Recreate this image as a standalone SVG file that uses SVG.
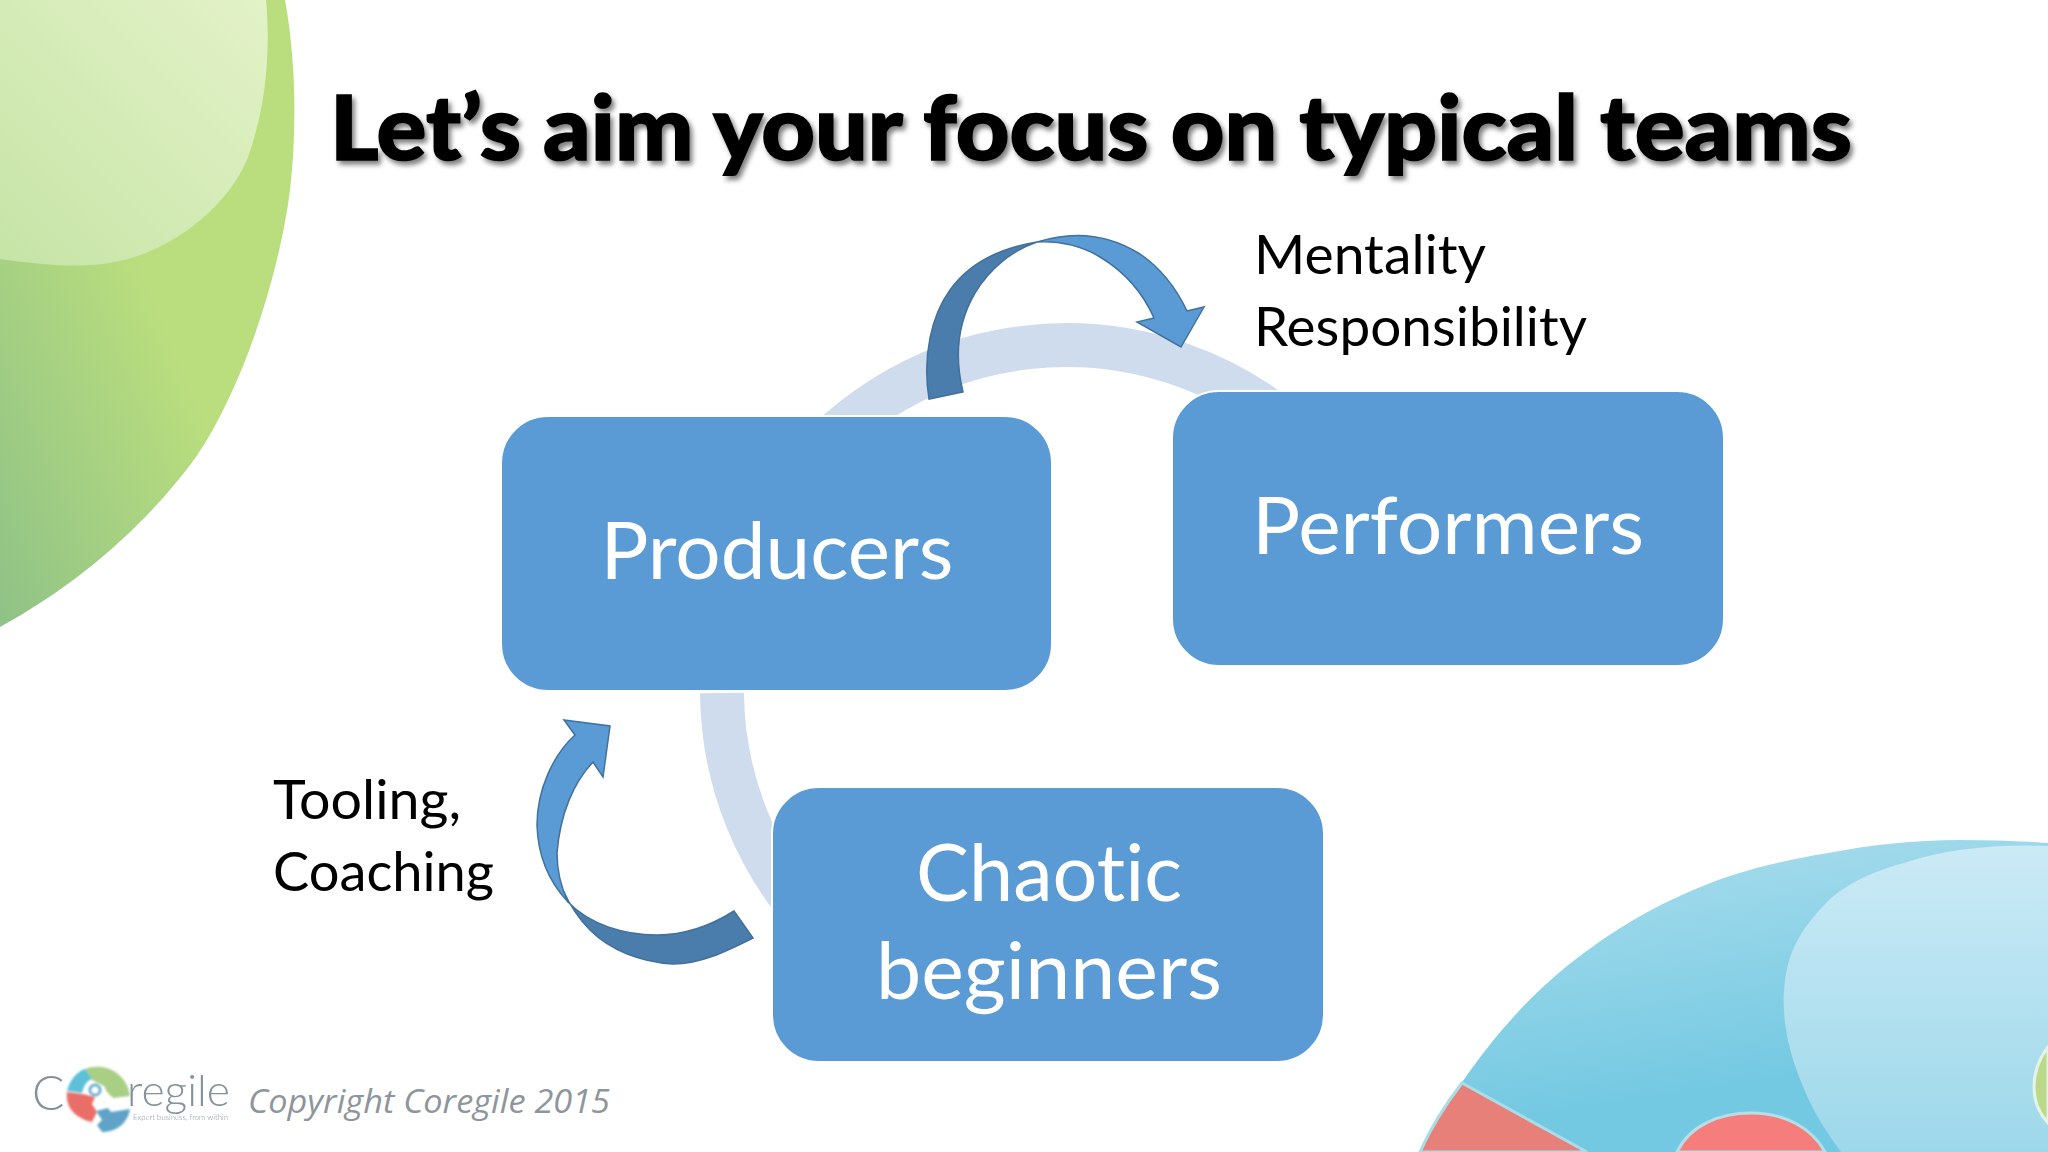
<svg xmlns="http://www.w3.org/2000/svg" width="2048" height="1152" viewBox="0 0 2048 1152">
<style>
text{font-variant-ligatures:none}
.node{fill:#5b9bd5;stroke:#fff;stroke-width:2}
.nt{font-family:Lato,"Open Sans",sans-serif;font-size:80px;fill:#fff;text-anchor:middle}
.lb{font-family:Lato,"Open Sans",sans-serif;font-size:54px;fill:#000}
.ring{fill:none;stroke:#cfdcee;stroke-width:44}
.arrow{stroke:#41719c;stroke-width:1.5;stroke-linejoin:miter}
.light{fill:#5b9bd5}
.dark{fill:#4a7cac}
</style>
<defs>
<linearGradient id="g1" x1="1" y1="0.1" x2="0" y2="1"><stop offset="0.45" stop-color="#bade7e"/><stop offset="1" stop-color="#8fc287"/></linearGradient>
<linearGradient id="g2" x1="1" y1="0" x2="0" y2="1"><stop offset="0" stop-color="#e3f2c8"/><stop offset="1" stop-color="#c6e4a6"/></linearGradient>
<linearGradient id="b1" x1="0.2" y1="0" x2="0.5" y2="1"><stop offset="0" stop-color="#aadded"/><stop offset="0.8" stop-color="#74c9e2"/></linearGradient>
<linearGradient id="b2" x1="0.5" y1="0" x2="0.5" y2="1"><stop offset="0" stop-color="#cbeaf6"/><stop offset="1" stop-color="#9dd8ea"/></linearGradient>
<filter id="sh" x="-5%" y="-20%" width="110%" height="150%"><feDropShadow dx="3" dy="4" stdDeviation="2.5" flood-color="#000" flood-opacity="0.5"/></filter>
<filter id="soft" x="-10%" y="-10%" width="120%" height="120%"><feGaussianBlur stdDeviation="0.9"/></filter>
<filter id="soft2" x="-10%" y="-10%" width="120%" height="120%"><feGaussianBlur stdDeviation="0.4"/></filter>
</defs>
<rect width="2048" height="1152" fill="#fff"/>
<g id="decor-top-left">
<path d="M0 0H285C296 60 297 130 290 190C280 270 245 385 196 457C150 520 85 580 0 627Z" fill="url(#g1)"/>
<path d="M0 0H266C271 55 265 110 248 157C230 205 165 262 91 265C60 267 30 263 0 259Z" fill="url(#g2)"/>
</g>
<g id="decor-bottom-right">
<path d="M1420 1152C1450 1095 1500 1020 1567 966C1610 932 1650 908 1698 888C1740 870 1785 860 1828 853C1870 845 1915 840 1959 840C1990 840 2020 841 2048 843V1152Z" fill="url(#b1)"/>
<path d="M2048 846C1990 844 1945 850 1907 862C1870 872 1845 885 1828 901C1805 925 1790 945 1785 980C1780 1020 1790 1055 1802 1084C1812 1110 1825 1130 1841 1152H2048Z" fill="url(#b2)"/>
<path d="M1462 1083L1587 1152H1420C1432 1125 1445 1105 1462 1083Z" fill="#e8807a" stroke="#a8dde8" stroke-width="3"/>
<path d="M1677 1152C1690 1125 1720 1113 1751 1113C1785 1113 1812 1128 1825 1152Z" fill="#f57e7c" stroke="#b4dfe8" stroke-width="3"/>
<path d="M2048 1047C2038 1060 2034 1075 2034 1087C2034 1100 2038 1112 2048 1123Z" fill="#bcd98a" stroke="#e4f3e8" stroke-width="3"/>
</g>
<g id="connectors">
<path class="ring" d="M780 498A345 345 0 0 1 1300 436"/>
<path class="ring" d="M722 693A345 345 0 0 0 817 928"/>
<g id="arrow-top">
<path class="arrow dark" d="M929 399C922 355 932 315 950 290C970 262 1000 248 1037 242C1013 250 990 268 975 293C958 322 954 355 963 392Z"/>
<path class="arrow light" d="M1037 242C1075 230 1110 235 1140 254C1162 269 1177 290 1187 311L1204 307L1181 347L1137 322L1154 318C1143 293 1125 272 1100 257C1080 245 1060 241 1037 242Z"/>
</g>
<g id="arrow-left">
<path class="arrow dark" d="M568 902C590 925 625 935 657 935C685 935 712 925 734 911L753 938C725 952 700 964 673 964C640 962 610 950 590 930C580 920 572 910 563 890Z"/>
<path class="arrow light" d="M568 902C552 885 538 860 537 825C537 790 553 755 575 735L564 720L610 726L603 777L593 762C573 783 560 815 557 853C557 870 560 885 568 902Z"/>
</g>
</g>
<g id="node-producers"><rect class="node" x="501" y="416" width="551" height="275" rx="47"/><text class="nt" x="777" y="579" textLength="353" lengthAdjust="spacingAndGlyphs">Producers</text></g>
<g id="node-performers"><rect class="node" x="1172" y="391" width="552" height="275" rx="47"/><text class="nt" x="1448" y="554" textLength="392" lengthAdjust="spacingAndGlyphs">Performers</text></g>
<g id="node-chaotic"><rect class="node" x="772" y="787" width="552" height="275" rx="47"/><text class="nt" x="1049" y="901" textLength="266" lengthAdjust="spacingAndGlyphs">Chaotic</text><text class="nt" x="1049" y="999" textLength="346" lengthAdjust="spacingAndGlyphs">beginners</text></g>
<text x="330" y="160" font-family="Lato,'Open Sans',sans-serif" font-weight="900" font-size="90" fill="#000" stroke="#000" stroke-width="1.6" textLength="1522" lengthAdjust="spacingAndGlyphs" filter="url(#sh)">Let’s aim your focus on typical teams</text>
<g id="label-mentality"><text class="lb" x="1254" y="274" textLength="232" lengthAdjust="spacingAndGlyphs">Mentality</text><text class="lb" x="1254" y="346" textLength="333" lengthAdjust="spacingAndGlyphs">Responsibility</text></g>
<g id="label-tooling"><text class="lb" x="273" y="819" textLength="188" lengthAdjust="spacingAndGlyphs">Tooling,</text><text class="lb" x="273" y="891" textLength="221" lengthAdjust="spacingAndGlyphs">Coaching</text></g>
<g id="logo">
<g filter="url(#soft)">
<path d="M85 1069A33 33 0 0 1 130 1096L113 1098L107 1092L104 1086L92 1080Z" fill="#a9cf85"/>
<path d="M85 1069C76 1072 70 1080 67 1091L82 1093C84 1086 86 1081 92 1079Z" fill="#5cc0d8"/>
<path d="M67 1092C65 1106 74 1118 92 1122L97 1112L92 1104L95 1097L83 1094Z" fill="#ea6e68"/>
<path d="M96 1111L108 1108L111 1112L130 1109C128 1122 118 1132 102 1132L97 1125L102 1120Z" fill="#5ea4c8"/>
<circle cx="95" cy="1090" r="5" fill="#fff" stroke="#5cb0d0" stroke-width="3"/>
</g>
<g filter="url(#soft2)" font-family="Lato,'Liberation Sans',sans-serif" font-weight="300" fill="#83929c">
<text x="32" y="1110" font-size="48">C</text>
<text x="127" y="1106" font-size="44" textLength="103" lengthAdjust="spacingAndGlyphs">regile</text>
<text x="133" y="1120" font-size="8" textLength="95" lengthAdjust="spacingAndGlyphs">Expert business, from within</text>
</g>
</g>
<text id="copyright" x="248" y="1113" font-family="'Open Sans',sans-serif" font-style="italic" font-size="32" fill="#8e959b" textLength="362" lengthAdjust="spacingAndGlyphs">Copyright Coregile 2015</text>
</svg>
